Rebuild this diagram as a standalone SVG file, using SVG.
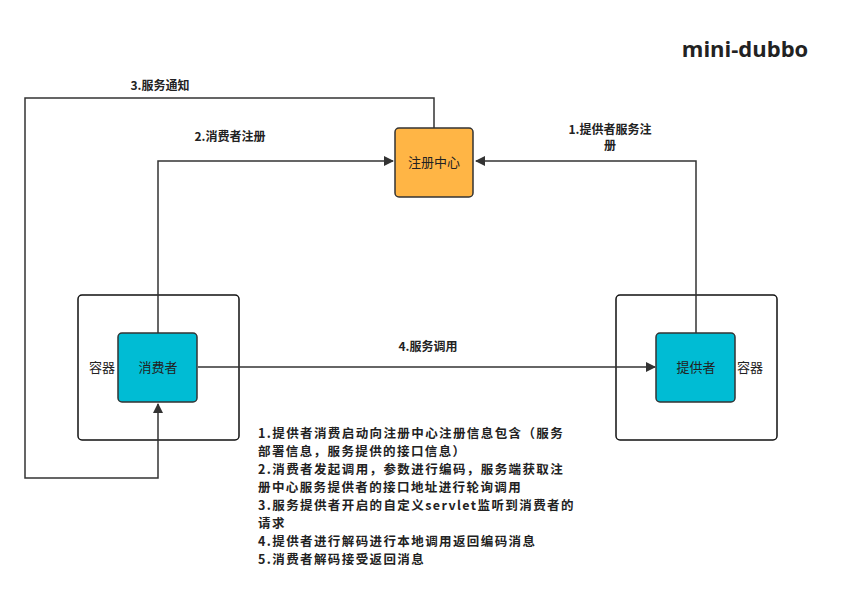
<svg xmlns="http://www.w3.org/2000/svg" width="861" height="609" viewBox="0 0 861 609">
<style>
text{font-family:"Noto Sans CJK SC","Noto Sans",sans-serif;font-size:12px;fill:#222}
.b{font-weight:bold}
.t{font-size:12.5px;font-weight:bold;letter-spacing:1.4px}
.c{stroke:#333;stroke-width:1.5;fill:none}
.box{fill:#fff;stroke:#111;stroke-width:1.5}
.n{stroke:#333;stroke-width:1.5}
.nl{font-size:13px}
</style>
<defs><marker id="a" markerWidth="10" markerHeight="10" refX="9" refY="5" orient="auto" markerUnits="userSpaceOnUse"><path d="M0,0L10,5L0,10z" fill="#333"/></marker></defs>
<text class="b" x="745" y="57" text-anchor="middle" style="font-size:22px;font-family:'Open Sans','Noto Sans',sans-serif">mini-dubbo</text>
<g id="container-left"><rect class="box" x="78" y="295" width="161" height="145" rx="4"/><text class="nl" x="102" y="372" text-anchor="middle">容器</text></g>
<g id="container-right"><rect class="box" x="616" y="295" width="161" height="145" rx="4"/><text class="nl" x="750" y="372" text-anchor="middle">容器</text></g>
<g id="connectors">
<path class="c" d="M158,333V161H393" marker-end="url(#a)"/>
<path class="c" d="M696,333V161H476" marker-end="url(#a)"/>
<path class="c" d="M198,367H655" marker-end="url(#a)"/>
<path class="c" d="M434,128V98H25V478H158V404" marker-end="url(#a)"/>
</g>
<g id="registry"><rect class="n" x="395" y="128" width="78" height="69" rx="4" fill="#ffb545"/><text class="nl" x="434" y="167" text-anchor="middle">注册中心</text></g>
<g id="consumer"><rect class="n" x="118" y="333" width="79" height="69" rx="4" fill="#00bcd4"/><text class="nl" x="158" y="372" text-anchor="middle">消费者</text></g>
<g id="provider"><rect class="n" x="656" y="333" width="79" height="69" rx="4" fill="#00bcd4"/><text class="nl" x="696" y="372" text-anchor="middle">提供者</text></g>
<g>
<text class="b" x="160" y="90" text-anchor="middle">3.服务通知</text>
<text class="b" x="230" y="141" text-anchor="middle">2.消费者注册</text>
<text class="b" x="610" y="134" text-anchor="middle">1.提供者服务注</text>
<text class="b" x="610" y="150" text-anchor="middle">册</text>
<text class="b" x="428" y="351" text-anchor="middle">4.服务调用</text>
</g>
<g id="notes">
<text class="t" x="258" y="438">1.提供者消费启动向注册中心注册信息包含（服务</text>
<text class="t" x="258" y="456">部署信息，服务提供的接口信息）</text>
<text class="t" x="258" y="474">2.消费者发起调用，参数进行编码，服务端获取注</text>
<text class="t" x="258" y="492">册中心服务提供者的接口地址进行轮询调用</text>
<text class="t" x="258" y="510">3.服务提供者开启的自定义servlet监听到消费者的</text>
<text class="t" x="258" y="528">请求</text>
<text class="t" x="258" y="546">4.提供者进行解码进行本地调用返回编码消息</text>
<text class="t" x="258" y="564">5.消费者解码接受返回消息</text>
</g>
</svg>
